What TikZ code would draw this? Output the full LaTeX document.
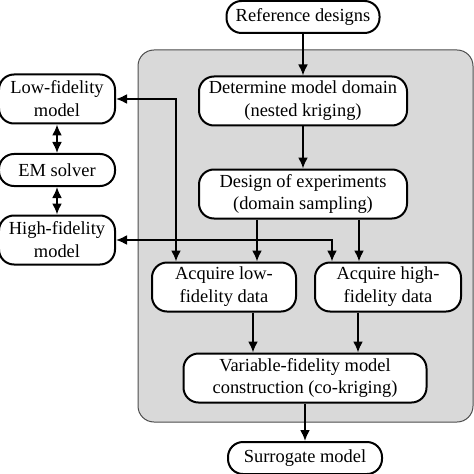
\documentclass[tikz,border=0pt]{standalone}
\usepackage{fontspec}
\setmainfont{Liberation Serif}
\usetikzlibrary{arrows.meta, positioning, calc}

\begin{document}
\begin{tikzpicture}
[x=1bp, y=1bp, >={Latex[length=11bp,width=10bp]}, line width=2bp,
every node/.style={font=\fontsize{18.5}{23}\selectfont}]
% Define styles for blocks and the shaded region
\tikzstyle{block} = [draw, fill=white, rectangle, rounded corners=15bp, align=center, inner sep=0pt, minimum height=49bp]
\tikzstyle{smallblock} = [block, minimum height=32bp]
\tikzstyle{region} = [draw=black!70, fill=black!15, line width=1bp, rounded corners=16bp]

\useasboundingbox (0,0) rectangle (474,-474);

% Shaded region
\draw[region] (138,-50) rectangle (473,-422);

% Nodes placement
\node [smallblock, minimum width=153bp] (refdes) at (303,-17) {Reference designs};
\node [block, minimum width=208bp, below of=refdes, node distance=84bp] (domain) {Determine model domain\\(nested kriging)};
\node [block, minimum width=208bp, below of=domain, node distance=93bp] (doe) {Design of experiments\\(domain sampling)};
\node [block, minimum width=144bp, below of=doe, node distance=93bp, xshift=-79bp] (acqlow) {Acquire low-\\fidelity data};
\node [block, minimum width=146bp, right of=acqlow, node distance=164bp] (acqhigh) {Acquire high-\\fidelity data};
\node [block, minimum width=243bp, below of=doe, node distance=184bp, xshift=2bp] (vfmodel) {Variable-fidelity model\\construction (co-kriging)};
\node [smallblock, minimum width=154bp, below of=vfmodel, node distance=80bp] (surrogate) {Surrogate model};

% Models on the left
\node [block, minimum width=116bp] (lofi) at (57,-99) {Low-fidelity\\model};
\node [smallblock, minimum width=116bp, below of=lofi, node distance=71bp] (emsolver) {EM solver};
\node [block, minimum width=116bp, below of=emsolver, node distance=70bp] (hifi) {High-fidelity\\model};

% Draw edges
\draw[->] (refdes) -- (domain);
\draw[->] (domain) -- (doe);
\draw[->] ([xshift=-46bp]doe.south) -- ([xshift=-46bp]doe.south |- acqlow.north);
\draw[->] ([xshift=56bp]doe.south) -- ([xshift=56bp]doe.south |- acqhigh.north);
\draw[->] ([xshift=29bp]acqlow.south) -- ([xshift=29bp]acqlow.south |- vfmodel.north);
\draw[->] ([xshift=-30bp]acqhigh.south) -- ([xshift=-30bp]acqhigh.south |- vfmodel.north);
\draw[->] (vfmodel) -- (surrogate);

% Links between models and data acquisition
\draw[<->] (lofi) -- (emsolver);
\draw[<->] (emsolver) -- (hifi);
\draw[<->] (lofi.east) -| ([xshift=-48bp]acqlow.north);
\draw[<->] (hifi.east) -| ([xshift=-56bp]acqhigh.north);
\end{tikzpicture}
\end{document}
